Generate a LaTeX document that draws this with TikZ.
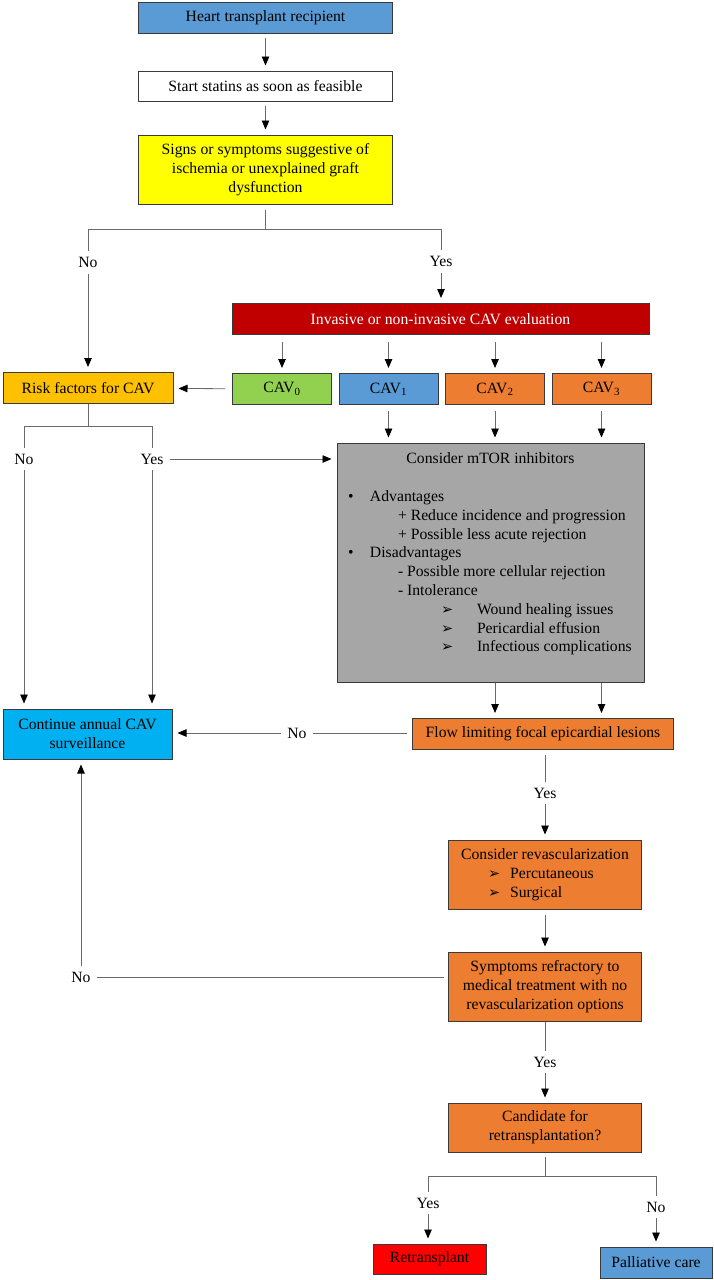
\documentclass[tikz,border=0pt]{standalone}
\usepackage{fontspec}
\setmainfont{Liberation Serif}
\newfontfamily\symfont{DejaVu Sans}
\usetikzlibrary{arrows.meta,positioning}

\definecolor{cavblue}{HTML}{5B9BD5}
\definecolor{cavred}{HTML}{C00000}
\definecolor{cavyellow}{HTML}{FFFF00}
\definecolor{cavgreen}{HTML}{92D050}
\definecolor{cavorange}{HTML}{ED7D31}
\definecolor{cavgold}{HTML}{FFC000}
\definecolor{cavcyan}{HTML}{00B0F0}
\definecolor{cavgray}{HTML}{A6A6A6}
\definecolor{cavbright}{HTML}{FF0000}
\definecolor{boxedge}{HTML}{3A3A3A}
\definecolor{linkgray}{HTML}{6A6A6A}

\newcommand{\tip}{{\symfont\fontsize{14.5}{14.5}\selectfont ➢}}

\begin{document}
\begin{tikzpicture}[x=1pt, y=-1pt, >={Triangle[length=9pt,width=7.5pt,color=black]},
    font=\fontsize{15.7}{18.8}\selectfont]
    \tikzstyle{box} = [shape=rectangle, draw=boxedge, line width=1pt, align=center, inner sep=2pt]
    \tikzstyle{bluebox} = [box, fill=cavblue]
    \tikzstyle{orangebox} = [box, fill=cavorange]
    \tikzstyle{cavbox} = [box, minimum width=99pt, minimum height=31pt]
    \tikzstyle{lbl} = [inner sep=6pt]
    \tikzstyle{link} = [draw=linkgray, line width=0.8pt]
    \tikzstyle{arr} = [link, ->, shorten >=5pt]
    \useasboundingbox (0,0) rectangle (714,1280);

    % main column
    \node (heart) [bluebox, minimum width=254pt, minimum height=31pt] at (265.5,18) {Heart transplant recipient};
    \node (statins) [box, fill=white, minimum width=254pt, minimum height=30pt] at (265.5,86) {Start statins as soon as feasible};
    \node (signs) [box, fill=cavyellow, minimum width=254pt, minimum height=69pt] at (265.5,169.5)
        {Signs or symptoms suggestive of\\ischemia or unexplained graft\\dysfunction};
    \node (invasive) [box, fill=cavred, text=white, minimum width=417pt, minimum height=31pt] at (440.5,319)
        {Invasive or non-invasive CAV evaluation};

    % CAV grades
    \node (cav0) [cavbox, fill=cavgreen] at (282,389) {CAV\textsubscript{0}};
    \node (cav1) [cavbox, fill=cavblue, right=6.5pt of cav0] {CAV\textsubscript{1}};
    \node (cav2) [cavbox, fill=cavorange, right=6.5pt of cav1] {CAV\textsubscript{2}};
    \node (cav3) [cavbox, fill=cavorange, right=6.5pt of cav2] {CAV\textsubscript{3}};

    \node (risk) [box, fill=cavgold, minimum width=170pt, minimum height=31pt] at (88,388) {Risk factors for CAV};
    \node (continue) [box, fill=cavcyan, minimum width=169pt, minimum height=50pt] at (87.5,734)
        {Continue annual CAV\\surveillance};

    \node (mtor) [box, fill=cavgray, inner sep=0pt] at (490.5,562.5) {%
        \begin{minipage}[t][239pt][t]{307pt}
        \vspace{10pt}
        \centering Consider mTOR inhibitors\par
        \raggedright\mbox{}\par
        \hspace*{11pt}\makebox[22pt][l]{\textbullet}Advantages\par
        \hspace*{61pt}+ Reduce incidence and progression\par
        \hspace*{61pt}+ Possible less acute rejection\par
        \hspace*{11pt}\makebox[22pt][l]{\textbullet}Disadvantages\par
        \hspace*{61pt}- Possible more cellular rejection\par
        \hspace*{61pt}- Intolerance\par
        \hspace*{104pt}\makebox[36pt][l]{\tip}Wound healing issues\par
        \hspace*{104pt}\makebox[36pt][l]{\tip}Pericardial effusion\par
        \hspace*{104pt}\makebox[36pt][l]{\tip}Infectious complications\par
        \end{minipage}};

    \node (flow) [orangebox, minimum width=261pt, minimum height=31pt] at (543,734) {Flow limiting focal epicardial lesions};
    \node (revasc) [orangebox, minimum width=193pt, minimum height=69pt, align=left] at (545,874.5)
        {Consider revascularization\\\hspace*{27pt}\makebox[22pt][l]{\tip}Percutaneous\\\hspace*{27pt}\makebox[22pt][l]{\tip}Surgical};
    \node (symptoms) [orangebox, minimum width=193pt, minimum height=69pt] at (545,986.5)
        {Symptoms refractory to\\medical treatment with no\\revascularization options};
    \node (candidate) [orangebox, minimum width=193pt, minimum height=49pt] at (545,1127.5)
        {Candidate for\\retransplantation?};
    \node (retrans) [box, fill=cavbright, minimum width=113pt, minimum height=30pt] at (429.5,1259) {Retransplant};
    \node (palliative) [bluebox, minimum width=112pt, minimum height=31pt] at (656,1262.5) {Palliative care};

    % branch labels
    \node (noA) [lbl] at (88,262.5) {No};
    \node (yesA) [lbl] at (441,261.5) {Yes};
    \node (noB) [lbl] at (24,459) {No};
    \node (yesB) [lbl] at (152,459) {Yes};
    \node (noC) [lbl] at (297,733) {No};
    \node (yesC) [lbl] at (545,793) {Yes};
    \node (noD) [lbl] at (81,977) {No};
    \node (yesD) [lbl] at (545,1062) {Yes};
    \node (yesE) [lbl] at (428,1203) {Yes};
    \node (noE) [lbl] at (656,1207) {No};
    \coordinate (j1) at (265.5,229);
    \coordinate (j2) at (88,426);
    \coordinate (j3) at (545,1176);

    % connectors
    \draw [arr, shorten <=4pt] (heart) -- (statins);
    \draw [arr, shorten <=4pt] (statins) -- (signs);
    \draw [link, shorten <=5pt] (signs) -- (j1);
    \draw [link] (j1) -| (noA);
    \draw [link] (j1) -| (yesA);
    \draw [arr] (noA) -- (risk);
    \draw [arr] (yesA) -- (yesA |- invasive.north);
    \draw [arr, shorten <=7pt] (invasive.south -| cav0) -- (cav0);
    \draw [arr, shorten <=7pt] (invasive.south -| cav1) -- (cav1);
    \draw [arr, shorten <=7pt] (invasive.south -| cav2) -- (cav2);
    \draw [arr, shorten <=7pt] (invasive.south -| cav3) -- (cav3);
    \draw [arr, shorten <=7pt] (cav0) -- (risk);
    \draw [link] (risk) -- (j2);
    \draw [link] (j2) -| (noB);
    \draw [link] (j2) -| (yesB);
    \draw [arr] (noB) -- (noB |- continue.north);
    \draw [arr] (yesB) -- (yesB |- continue.north);
    \draw [arr] (yesB) -- (yesB -| mtor.west);
    \draw [arr, shorten <=6pt] (cav1) -- (cav1 |- mtor.north);
    \draw [arr, shorten <=6pt] (cav2) -- (cav2 |- mtor.north);
    \draw [arr, shorten <=6pt] (cav3) -- (cav3 |- mtor.north);
    \draw [arr] (mtor.south -| cav2) -- (cav2 |- flow.north);
    \draw [arr] (mtor.south -| cav3) -- (cav3 |- flow.north);
    \draw [link, shorten <=5pt] (flow.west |- noC) -- (noC);
    \draw [arr] (noC) -- (noC -| continue.east);
    \draw [link, shorten <=5pt] (flow.south -| yesC) -- (yesC);
    \draw [arr] (yesC) -- (revasc);
    \draw [arr, shorten <=5pt] (revasc) -- (symptoms);
    \draw [link, shorten <=4pt] (symptoms.west |- noD) -- (noD);
    \draw [arr] (noD) -- (noD |- continue.south);
    \draw [link] (symptoms) -- (yesD);
    \draw [arr] (yesD) -- (candidate);
    \draw [link, shorten <=4pt] (candidate) -- (j3);
    \draw [link] (j3) -| (yesE);
    \draw [link] (j3) -| (noE);
    \draw [arr] (yesE) -- (yesE |- retrans.north);
    \draw [arr] (noE) -- (noE |- palliative.north);
\end{tikzpicture}
\end{document}
